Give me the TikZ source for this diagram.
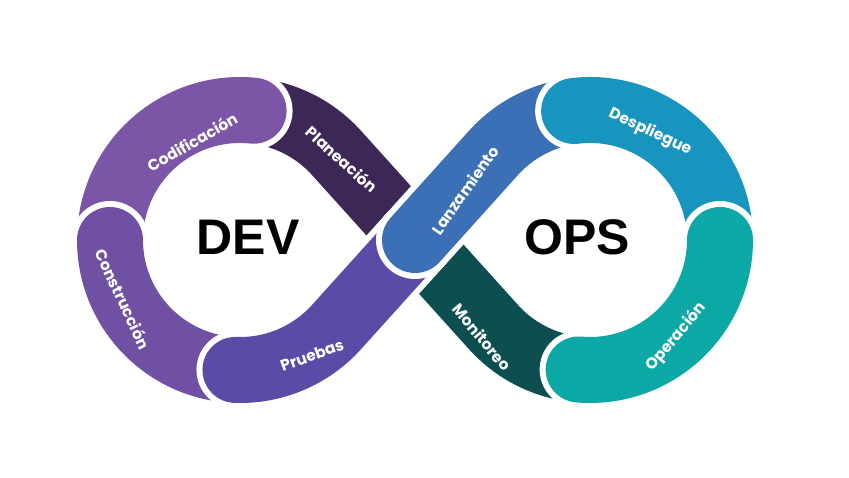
\documentclass[tikz,border=0pt]{standalone}
\usepackage{fontspec}
\setsansfont{Poppins}
\setmainfont{Liberation Sans}
\usetikzlibrary{positioning}
\definecolor{codif}{HTML}{7B55A6}
\definecolor{plan}{HTML}{3D2757}
\definecolor{constr}{HTML}{7050A3}
\definecolor{prueb}{HTML}{5A4BA6}
\definecolor{lanz}{HTML}{3C70B6}
\definecolor{despl}{HTML}{1795BE}
\definecolor{oper}{HTML}{0BA8A6}
\definecolor{monit}{HTML}{0D4E50}
\tikzset{
  label/.style={text=white, inner sep=1pt, font=\sffamily\bfseries\fontsize{15.5}{16}\selectfont},
  big/.style={font=\bfseries\fontsize{50}{50}\selectfont}
}
\newcommand\band[2]{%
  \draw[white, line width=78, line cap=round] #2;
  \draw[#1, line width=66, line cap=round] #2;}

\begin{document}
\begin{tikzpicture}[x=1pt, y=1pt]
  \useasboundingbox (0,0) rectangle (849,477);
  \coordinate (L) at (240,237);
  \coordinate (R) at (590,237);
  \coordinate (X) at (415,237);
  % the two halves under the crossing
  \band{plan}{([shift={(100:130)}]L) arc[start angle=100, end angle=42, radius=130] -- (X)}
  \band{monit}{(X) -- ([shift={(222:130)}]R) arc[start angle=222, end angle=275, radius=130]}
  % left loop
  \band{codif}{([shift={(172:130)}]L) arc[start angle=172, end angle=84, radius=130]}
  \band{constr}{([shift={(180:130)}]L) arc[start angle=180, end angle=265, radius=130]}
  \band{prueb}{([shift={(268:130)}]L) arc[start angle=268, end angle=318, radius=130] -- (X)}
  % right loop
  \band{lanz}{(X) -- ([shift={(138:130)}]R) arc[start angle=138, end angle=90, radius=130]}
  \band{despl}{([shift={(97:130)}]R) arc[start angle=97, end angle=8, radius=130]}
  \band{oper}{([shift={(0:130)}]R) arc[start angle=0, end angle=-95, radius=130]}
  % texts
  \node[label, rotate=30] (codificacion) at (192,335) {Codificación};
  \node[label, rotate=-42] (planeacion) at (342,318) {Planeación};
  \node[label, rotate=-65] (construccion) at (123,178) {Construcción};
  \node[label, rotate=20] (pruebas) at (312,122) {Pruebas};
  \node[label, rotate=55] (lanzamiento) at (465,287) {Lanzamiento};
  \node[label, rotate=-25] (despliegue) at (650,345) {Despliegue};
  \node[label, rotate=50] (operacion) at (676,140) {Operación};
  \node[label, rotate=-50] (monitoreo) at (482,140) {Monitoreo};
  \node[big] (dev) at (248,240) {DEV};
  \node[big] (ops) at (577,240) {OPS};
\end{tikzpicture}
\end{document}
